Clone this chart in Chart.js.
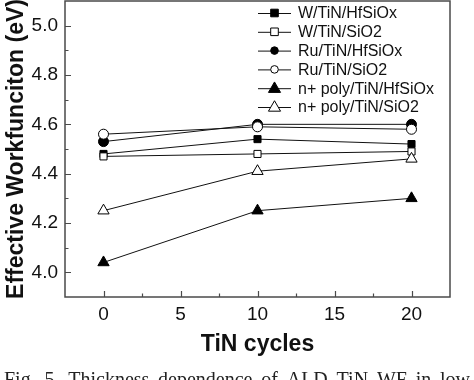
<!DOCTYPE html>
<html>
<head>
<meta charset="utf-8">
<script src="https://cdn.jsdelivr.net/npm/chart.js@4.4.1/dist/chart.umd.min.js"></script>
<style>
  html, body { margin: 0; padding: 0; background: #fff; }
  #wrap { width: 474px; height: 380px; position: relative; }
</style>
</head>
<body>
<div id="wrap"><canvas id="wf"></canvas></div>
<script>
// Effective workfunction vs TiN cycles, six gate stacks.
const CYCLES = [0, 10, 20];
const SERIES_NAMES = [
  'W/TiN/HfSiOx',
  'W/TiN/SiO2',
  'Ru/TiN/HfSiOx',
  'Ru/TiN/SiO2',
  'n+ poly/TiN/HfSiOx',
  'n+ poly/TiN/SiO2',
];
const W_HFSIOX = [4.48, 4.54, 4.52];
const W_SIO2 = [4.47, 4.48, 4.49];
const RU_HFSIOX = [4.53, 4.60, 4.60];
const RU_SIO2 = [4.56, 4.59, 4.58];
const POLY_HFSIOX = [4.04, 4.25, 4.30];
const POLY_SIO2 = [4.25, 4.41, 4.46];

const X_LABEL_TICKS = [0, 5, 10, 15, 20];
const X_MINOR_TICKS = [2.5, 7.5, 12.5, 17.5];
const Y_LABEL_TICKS = [4.0, 4.2, 4.4, 4.6, 4.8, 5.0];
const Y_MINOR_TICKS = [4.1, 4.3, 4.5, 4.7, 4.9];

const AXIS_COLOR = '#4a4a4a';
const FONT = '"Liberation Sans", Arial, sans-serif';

const STYLES = [
  { style: 'rect', filled: true },
  { style: 'rect', filled: false },
  { style: 'circle', filled: true },
  { style: 'circle', filled: false },
  { style: 'triangle', filled: true },
  { style: 'triangle', filled: false },
];

const VALUES = [W_HFSIOX, W_SIO2, RU_HFSIOX, RU_SIO2, POLY_HFSIOX, POLY_SIO2];

const datasets = SERIES_NAMES.map((name, i) => {
  const s = STYLES[i];
  const isTri = s.style === 'triangle';
  return {
    label: name,
    data: CYCLES.map((x, j) => ({ x, y: VALUES[i][j] })),
    borderColor: '#111',
    borderWidth: 1,
    pointStyle: s.style,
    pointRadius: isTri ? 6.5 : 5,
    pointBorderWidth: 1,
    pointBorderColor: '#000',
    pointBackgroundColor: s.filled ? '#000' : '#fff',
    tension: 0,
    order: 6 - i,
  };
});

function drawMarker(ctx, style, filled, x, y, r) {
  ctx.save();
  ctx.fillStyle = filled ? '#000' : '#fff';
  ctx.strokeStyle = '#000';
  ctx.lineWidth = 1;
  ctx.beginPath();
  if (style === 'rect') {
    ctx.rect(x - r, y - r, 2 * r, 2 * r);
  } else if (style === 'circle') {
    ctx.arc(x, y, r, 0, Math.PI * 2);
  } else {
    const h = r * 1.9;
    ctx.moveTo(x, y - h * 0.6);
    ctx.lineTo(x + r * 1.1, y + h * 0.4);
    ctx.lineTo(x - r * 1.1, y + h * 0.4);
    ctx.closePath();
  }
  ctx.fill();
  ctx.stroke();
  ctx.restore();
}

// frame, inward ticks, legend, caption
const framePlugin = {
  id: 'frame',
  afterDraw(chart) {
    const { ctx, chartArea: a, scales } = chart;
    const xs = scales.x, ys = scales.y;
    ctx.save();
    ctx.strokeStyle = AXIS_COLOR;
    ctx.lineWidth = 1.5;
    ctx.strokeRect(a.left, a.top, a.right - a.left, a.bottom - a.top);
    ctx.lineWidth = 1.2;
    ctx.beginPath();
    X_LABEL_TICKS.forEach(v => {
      const px = Math.round(xs.getPixelForValue(v)) + 0.5;
      ctx.moveTo(px, a.bottom); ctx.lineTo(px, a.bottom - 6);
    });
    X_MINOR_TICKS.forEach(v => {
      const px = Math.round(xs.getPixelForValue(v)) + 0.5;
      ctx.moveTo(px, a.bottom); ctx.lineTo(px, a.bottom - 3.5);
    });
    Y_LABEL_TICKS.forEach(v => {
      const py = Math.round(ys.getPixelForValue(v)) + 0.5;
      ctx.moveTo(a.left, py); ctx.lineTo(a.left + 6, py);
    });
    Y_MINOR_TICKS.forEach(v => {
      const py = Math.round(ys.getPixelForValue(v)) + 0.5;
      ctx.moveTo(a.left, py); ctx.lineTo(a.left + 3.5, py);
    });
    ctx.stroke();

    // legend
    const lx = 258, ly0 = 13, step = 18.8;
    ctx.font = '16px ' + FONT;
    ctx.textBaseline = 'middle';
    SERIES_NAMES.forEach((name, i) => {
      const y = ly0 + i * step;
      ctx.strokeStyle = '#111';
      ctx.lineWidth = 1;
      ctx.beginPath();
      ctx.moveTo(lx, y + 0.5); ctx.lineTo(lx + 33, y + 0.5);
      ctx.stroke();
      const s = STYLES[i];
      drawMarker(ctx, s.style, s.filled, lx + 16.5, y, s.style === 'triangle' ? 5.5 : 3.8);
      ctx.fillStyle = '#111';
      ctx.fillText(name, lx + 40, y + 1);
    });

    // caption (cut off at the bottom of the picture)
    ctx.font = '20px "Liberation Serif", "Times New Roman", serif';
    ctx.fillStyle = '#222';
    ctx.textBaseline = 'alphabetic';
    const words = 'Fig. 5. Thickness dependence of ALD TiN WF in low'.split(' ');
    const widths = words.map(w => ctx.measureText(w).width);
    const total = widths.reduce((p, c) => p + c, 0);
    const gap = (470 - 4 - total) / (words.length - 1);
    let cx = 4;
    words.forEach((w, i) => { ctx.fillText(w, cx, 386); cx += widths[i] + gap; });
    ctx.restore();
  },
};

new Chart(document.getElementById('wf'), {
  type: 'line',
  data: { datasets },
  options: {
    responsive: true,
    maintainAspectRatio: false,
    animation: false,
    layout: { autoPadding: false, padding: { top: 1, right: 24, bottom: 0, left: 0 } },
    plugins: { legend: { display: false }, tooltip: { enabled: false } },
    scales: {
      x: {
        type: 'linear',
        min: -2.5,
        max: 22.5,
        grid: { display: false, drawTicks: false },
        border: { display: false },
        afterBuildTicks: s => { s.ticks = X_LABEL_TICKS.map(v => ({ value: v })); },
        afterFit: s => { s.height = 83; s.paddingLeft = 0; s.paddingRight = 0; },
        ticks: {
          color: '#111',
          font: { family: FONT, size: 19 },
          padding: 6,
          maxRotation: 0,
          callback: v => String(v),
        },
        title: {
          display: true,
          text: 'TiN cycles',
          color: '#111',
          font: { family: FONT, size: 23, weight: 'bold' },
          padding: { top: 0, bottom: 22 },
        },
      },
      y: {
        type: 'linear',
        min: 3.9,
        max: 5.1,
        grid: { display: false, drawTicks: false },
        border: { display: false },
        afterBuildTicks: s => { s.ticks = Y_LABEL_TICKS.map(v => ({ value: v })); },
        afterFit: s => { s.width = 65; s.paddingTop = 0; s.paddingBottom = 0; },
        ticks: {
          color: '#111',
          font: { family: FONT, size: 19 },
          padding: 7,
          callback: v => v.toFixed(1),
        },
        title: {
          display: true,
          text: 'Effective Workfunciton (eV)',
          color: '#111',
          font: { family: FONT, size: 23, weight: 'bold' },
          padding: { top: 3, bottom: 0 },
        },
      },
    },
  },
  plugins: [framePlugin],
});
</script>
</body>
</html>
